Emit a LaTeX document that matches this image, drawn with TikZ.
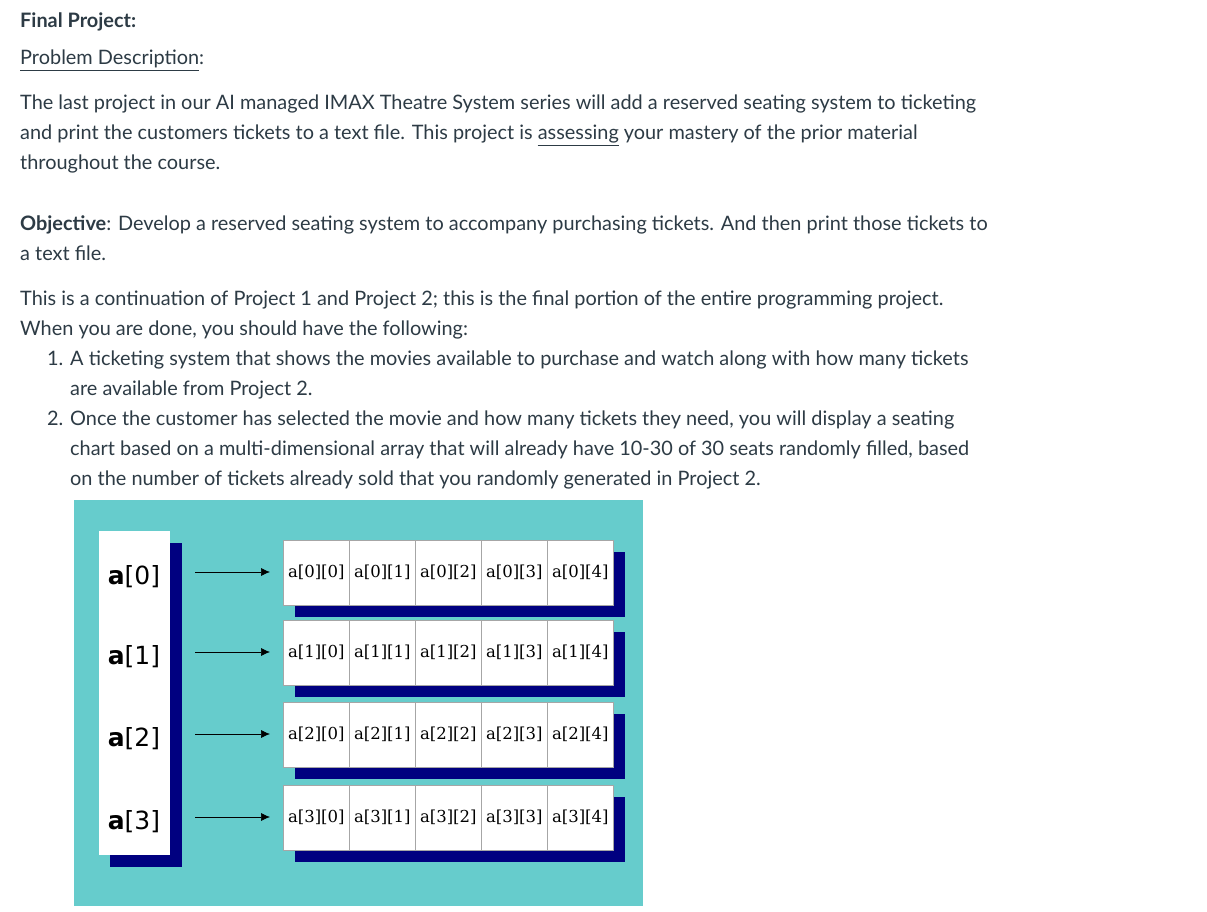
\documentclass[tikz,border=0pt]{standalone}
\usepackage{fontspec}
\usetikzlibrary{arrows.meta}
\setmainfont{Lato}
\newfontfamily\cellfont{DejaVu Serif}
\newfontfamily\labfont{DejaVu Sans}
\definecolor{teal1}{HTML}{66CCCC}
\definecolor{navy1}{HTML}{000080}
\definecolor{txt}{HTML}{2D3B45}
\begin{document}
\begin{tikzpicture}[x=1pt,y=-1pt,
  line/.style={anchor=base west,inner sep=0pt,text=txt,font=\fontsize{19.9}{22}\selectfont},
  cell/.style={draw=gray!70,line width=0.6pt,fill=white,minimum width=66pt,minimum height=65pt,inner sep=0pt,font=\cellfont\fontsize{16.5}{17}\selectfont,anchor=north west},
  lab/.style={font=\labfont\fontsize{25}{26}\selectfont,inner sep=0pt},
  arr/.style={-{Latex[length=9pt,width=8pt]},line width=0.6pt}]
\useasboundingbox (0,0) rectangle (1207,912);
\fill[white] (0,0) rectangle (1207,912);
\node[line] (t0) at (20,28) {\textbf{Final Project:}};
\node[line] (t1) at (20,65) {\underline{Problem Description}:};
\node[line] (t2) at (20,110) {The last project in our AI managed IMAX Theatre System series will add a reserved seating system to ticketing};
\node[line] (t3) at (20,140) {and print the customers tickets to a text file. This project is \underline{assessing} your mastery of the prior material};
\node[line] (t4) at (20,170) {throughout the course.};
\node[line] (t5) at (20,230) {\textbf{Objective}: Develop a reserved seating system to accompany purchasing tickets. And then print those tickets to};
\node[line] (t6) at (20,260) {a text file.};
\node[line] (t7) at (20,305) {This is a continuation of Project 1 and Project 2; this is the final portion of the entire programming project.};
\node[line] (t8) at (20,335) {When you are done, you should have the following:};
\node[line] (t9) at (47,365) {1. A ticketing system that shows the movies available to purchase and watch along with how many tickets};
\node[line] (t10) at (70,395) {are available from Project 2.};
\node[line] (t11) at (47,425) {2. Once the customer has selected the movie and how many tickets they need, you will display a seating};
\node[line] (t12) at (70,455) {chart based on a multi-dimensional array that will already have 10-30 of 30 seats randomly filled, based};
\node[line] (t13) at (70,485) {on the number of tickets already sold that you randomly generated in Project 2.};
% diagram
\fill[teal1] (74,500) rectangle (643,906);
\fill[navy1] (110,543) rectangle (182,867);
\fill[white] (99,531) rectangle (170,855);
\foreach \r/\y in {0/540,1/620,2/702,3/785}{
  \fill[navy1] (295,\y+12) rectangle (625,\y+77);
  \foreach \c in {0,...,4}{
    \node[cell] (c\r\c) at (283+66*\c,\y) {a[\r][\c]};
  }
  \node[lab] (a\r) at (134,\y+37) {\textbf{a}[\r]};
  \coordinate (s\r) at (195,\y+32);
  \coordinate (e\r) at (270,\y+32);
  \draw[arr] (s\r) -- (e\r);
}
\draw[navy1,line width=1.5pt] (295,769) -- (428,769);
\end{tikzpicture}
\end{document}
